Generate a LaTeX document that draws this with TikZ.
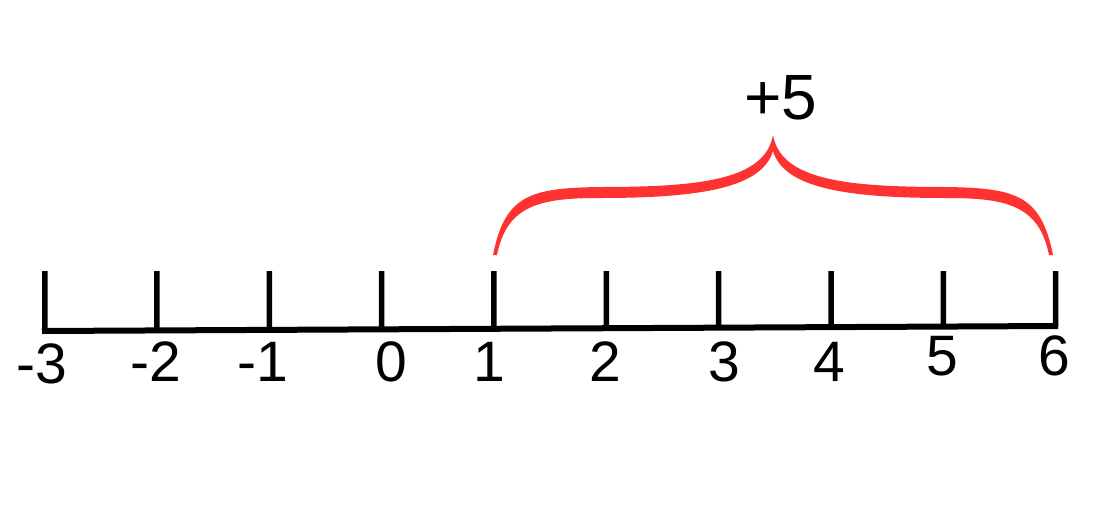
\documentclass[tikz,border=0pt]{standalone}
\usepackage{fontspec}
\setmainfont{Liberation Sans}
\usetikzlibrary{calc}
\definecolor{bracered}{RGB}{255,50,50}
\begin{document}
\begin{tikzpicture}[x=1pt,y=-1pt,
  axis/.style={line width=6pt,black},
  tickmark/.style={line width=5.5pt,black},
  numlabel/.style={inner sep=0pt,font=\fontsize{57}{57}\selectfont},
  sumlabel/.style={inner sep=0pt,font=\fontsize{64}{64}\selectfont},
  bracefill/.style={fill=bracered,draw=none}]
\useasboundingbox (0,0) rectangle (1096,520);
% axis end points
\coordinate (L) at (42,331);
\coordinate (R) at (1058,326);
\draw[axis] (L) -- (R);
% ticks
\foreach \i/\x in {0/44.9,1/156.8,2/269.4,3/381.6,4/493.9,5/606.3,6/718.6,7/831.2,8/943.4,9/1055.6}{
  \coordinate (t\i) at (\x,271);
  \coordinate (b\i) at ($(L)!{(\x-42)/1016}!(R)$);
}
\foreach \i in {0,...,9}{
  \draw[tickmark] (t\i) -- (b\i);
}
% labels
\node[numlabel] (n0) at (42,364) {-3};
\node[numlabel] (n1) at (156,362) {-2};
\node[numlabel] (n2) at (263,362) {-1};
\node[numlabel] (n3) at (391,362) {0};
\node[numlabel] (n4) at (489,362) {1};
\node[numlabel] (n5) at (605,362) {2};
\node[numlabel] (n6) at (724,362) {3};
\node[numlabel] (n7) at (829,362) {4};
\node[numlabel] (n8) at (942,356) {5};
\node[numlabel] (n9) at (1054,356) {6};
% brace
\path[bracefill] (493,255) .. controls (505,195) and (530,188) .. (600,187)
  .. controls (700,187) and (765,180) .. (773,135)
  .. controls (781,180) and (846,187) .. (946,187)
  .. controls (1016,188) and (1041,195) .. (1053,255)
  -- (1049,255)
  .. controls (1039,205) and (1006,198) .. (946,198)
  .. controls (846,198) and (784,188) .. (773,151)
  .. controls (762,188) and (700,198) .. (600,198)
  .. controls (540,198) and (507,205) .. (497,255) -- cycle;
\node[sumlabel] (plus) at (781,98) {+5};
\end{tikzpicture}
\end{document}
